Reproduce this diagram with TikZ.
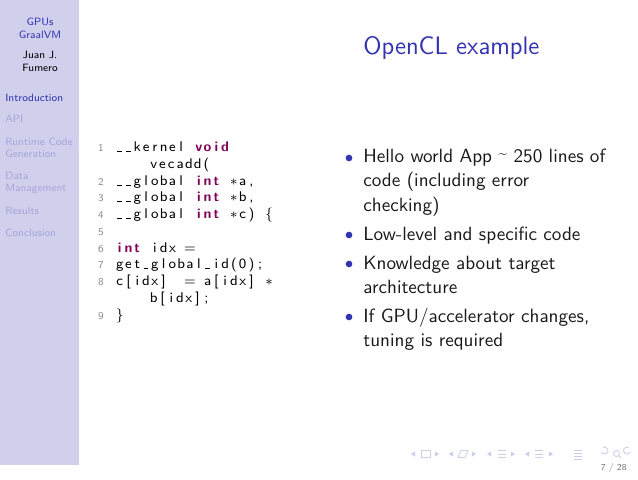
\documentclass[tikz,border=0pt]{standalone}
\usepackage{xcolor}
\usetikzlibrary{positioning}
\usetikzlibrary{calc}

\definecolor{sidebarfill}{RGB}{208,208,236}
\definecolor{titleblue}{RGB}{51,51,178}
\definecolor{fadedblue}{RGB}{165,165,218}
\definecolor{navblue}{RGB}{205,205,235}
\definecolor{keyword}{RGB}{127,0,85}

% one fixed column per character
\makeatletter
\newcommand{\spaced}[1]{\@tfor\cc:=#1\do{\makebox[5pt][c]{\cc}}}
\makeatother
\newcommand{\kw}[1]{{\color{keyword}\bfseries\spaced{#1}}}
\newcommand{\us}{\rule[-0.6pt]{2.6pt}{0.4pt}}

\begin{document}
\begin{tikzpicture}[x=0.5692pt,y=-0.5692pt]
\sffamily

% used shapes
\tikzstyle{sidehead} = [inner sep=0pt, align=center, font=\fontsize{6.05}{7.1}\sffamily, text=titleblue]
\tikzstyle{sideauthor} = [inner sep=0pt, align=center, font=\fontsize{6.05}{7.1}\sffamily, text=black]
\tikzstyle{section} = [inner sep=0pt, anchor=west, align=left, font=\fontsize{6.05}{7.1}\sffamily, text=fadedblue]
\tikzstyle{codeline} = [inner sep=0pt, anchor=west, yshift=-1.1pt, font=\fontsize{8}{10}\sffamily, execute at begin node={\rule[-3.4pt]{0pt}{10.4pt}}]
\tikzstyle{lineno} = [inner sep=0pt, yshift=-1.1pt, font=\fontsize{6}{7}\sffamily, text=black!45, execute at begin node={\rule[-3.4pt]{0pt}{10.4pt}}]
\tikzstyle{bulletdot} = [circle, fill=titleblue, inner sep=0pt, minimum size=3.8pt]
\tikzstyle{item} = [inner sep=0pt, anchor=north west, align=left, font=\fontsize{10.9}{13.9}\sffamily, text=black!90]
\tikzstyle{navtri} = [fill=navblue, draw=none]
\tikzstyle{navline} = [draw=navblue, line width=0.5pt]

\useasboundingbox (0,0) rectangle (638,479);
\fill[sidebarfill] (0,0) rectangle (79,465);

% sidebar
\node [sidehead] (talk) at (40,28.5) {GPUs\\GraalVM};
\node [sideauthor] (author) at (40,61.5) {Juan J.\\Fumero};
\node [section, text=titleblue] (intro) at (5,98) {Introduction};
\node [section] (api) at (5,119) {API};
\node [section] (runtime) at (5,148) {Runtime Code\\Generation};
\node [section] (data) at (5,183) {Data\\Management};
\node [section] (results) at (5,211) {Results};
\node [section] (conclusion) at (5,233) {Conclusion};

% title
\node [inner sep=0pt, anchor=west, font=\fontsize{14.4}{17}\sffamily, text=titleblue] (title) at (363,48) {OpenCL example};

% code
\node [lineno] (n1) at (101,146) {1};
\node [lineno] (n2) at (101,180) {2};
\node [lineno] (n3) at (101,196) {3};
\node [lineno] (n4) at (101,213) {4};
\node [lineno] (n5) at (101,230) {5};
\node [lineno] (n6) at (101,247) {6};
\node [lineno] (n7) at (101,263) {7};
\node [lineno] (n8) at (101,280) {8};
\node [lineno] (n9) at (101,314) {9};

\node [codeline] (l1) at (115,146) {\spaced{\us\us kernel~}\kw{void}};
\node [codeline] (l1b) at (149,163) {\spaced{vecadd(}};
\node [codeline] (l2) at (115,180) {\spaced{\us\us global~}\kw{int}\spaced{~{$\ast$}a,}};
\node [codeline] (l3) at (115,196) {\spaced{\us\us global~}\kw{int}\spaced{~{$\ast$}b,}};
\node [codeline] (l4) at (115,213) {\spaced{\us\us global~}\kw{int}\spaced{~{$\ast$}c)~\{}};
\node [codeline] (l6) at (115,247) {\kw{int}\spaced{~idx~{$=$}}};
\node [codeline] (l7) at (115,263) {\spaced{get\us global\us id(0);}};
\node [codeline] (l8) at (115,280) {\spaced{c[idx]~~{$=$}~a[idx]~{$\ast$}}};
\node [codeline] (l8b) at (149,297) {\spaced{b[idx];}};
\node [codeline] (l9) at (115,314) {\spaced{\}}};

% bullets
\node [item] (hello) at (363,148.5) {Hello world App \raisebox{0.45ex}{\fontsize{9}{9}\selectfont\textasciitilde}\ 250 lines of\\code (including error\\checking)};
\node [item] (low) at (363,226.5) {Low-level and specific code};
\node [item] (know) at (363,255.5) {Knowledge about target\\architecture};
\node [item] (gpu) at (363,307.5) {If GPU/accelerator changes,\\tuning is required};

\node [bulletdot] (b1) at (349,158) {};
\node [bulletdot] (b2) at (349,235) {};
\node [bulletdot] (b3) at (349,264) {};
\node [bulletdot] (b4) at (349,317) {};

% navigation symbols
\foreach \x in {413,451,489,527} \fill[navtri] (\x+2,451.5) -- (\x+2,456.5) -- (\x-2,454) -- cycle;
\foreach \x in {437,474,513,551} \fill[navtri] (\x-2,451.5) -- (\x-2,456.5) -- (\x+2,454) -- cycle;
\draw[navline] (421,450.5) rectangle (430,457.5);
\draw[navline] (458,457.5) -- (461,450.5) -- (468,450.5) -- (465,457.5) -- cycle;
\draw[navline] (498,450.5) -- (506,450.5) (498,454) -- (506,454) (498,457.5) -- (506,457.5);
\draw[navline] (535,450.5) -- (543,450.5) (535,454) -- (543,454) (535,457.5) -- (543,457.5);
\draw[navline] (574,450) -- (582,450) (574,453) -- (582,453) (574,456) -- (582,456) (574,459) -- (582,459);
\draw[navline] (601.5,452.25) arc (150:-120:3.5);
\draw[navline] (616.5,453.5) circle (3);
\draw[navline] (618.5,455.5) -- (621,458);
\draw[navline] (630,452.25) arc (30:300:3.5);

\node [inner sep=0pt, anchor=east, font=\fontsize{5.2}{6}\sffamily, text=black!55] (page) at (627,468) {7 / 28};

\end{tikzpicture}
\end{document}
